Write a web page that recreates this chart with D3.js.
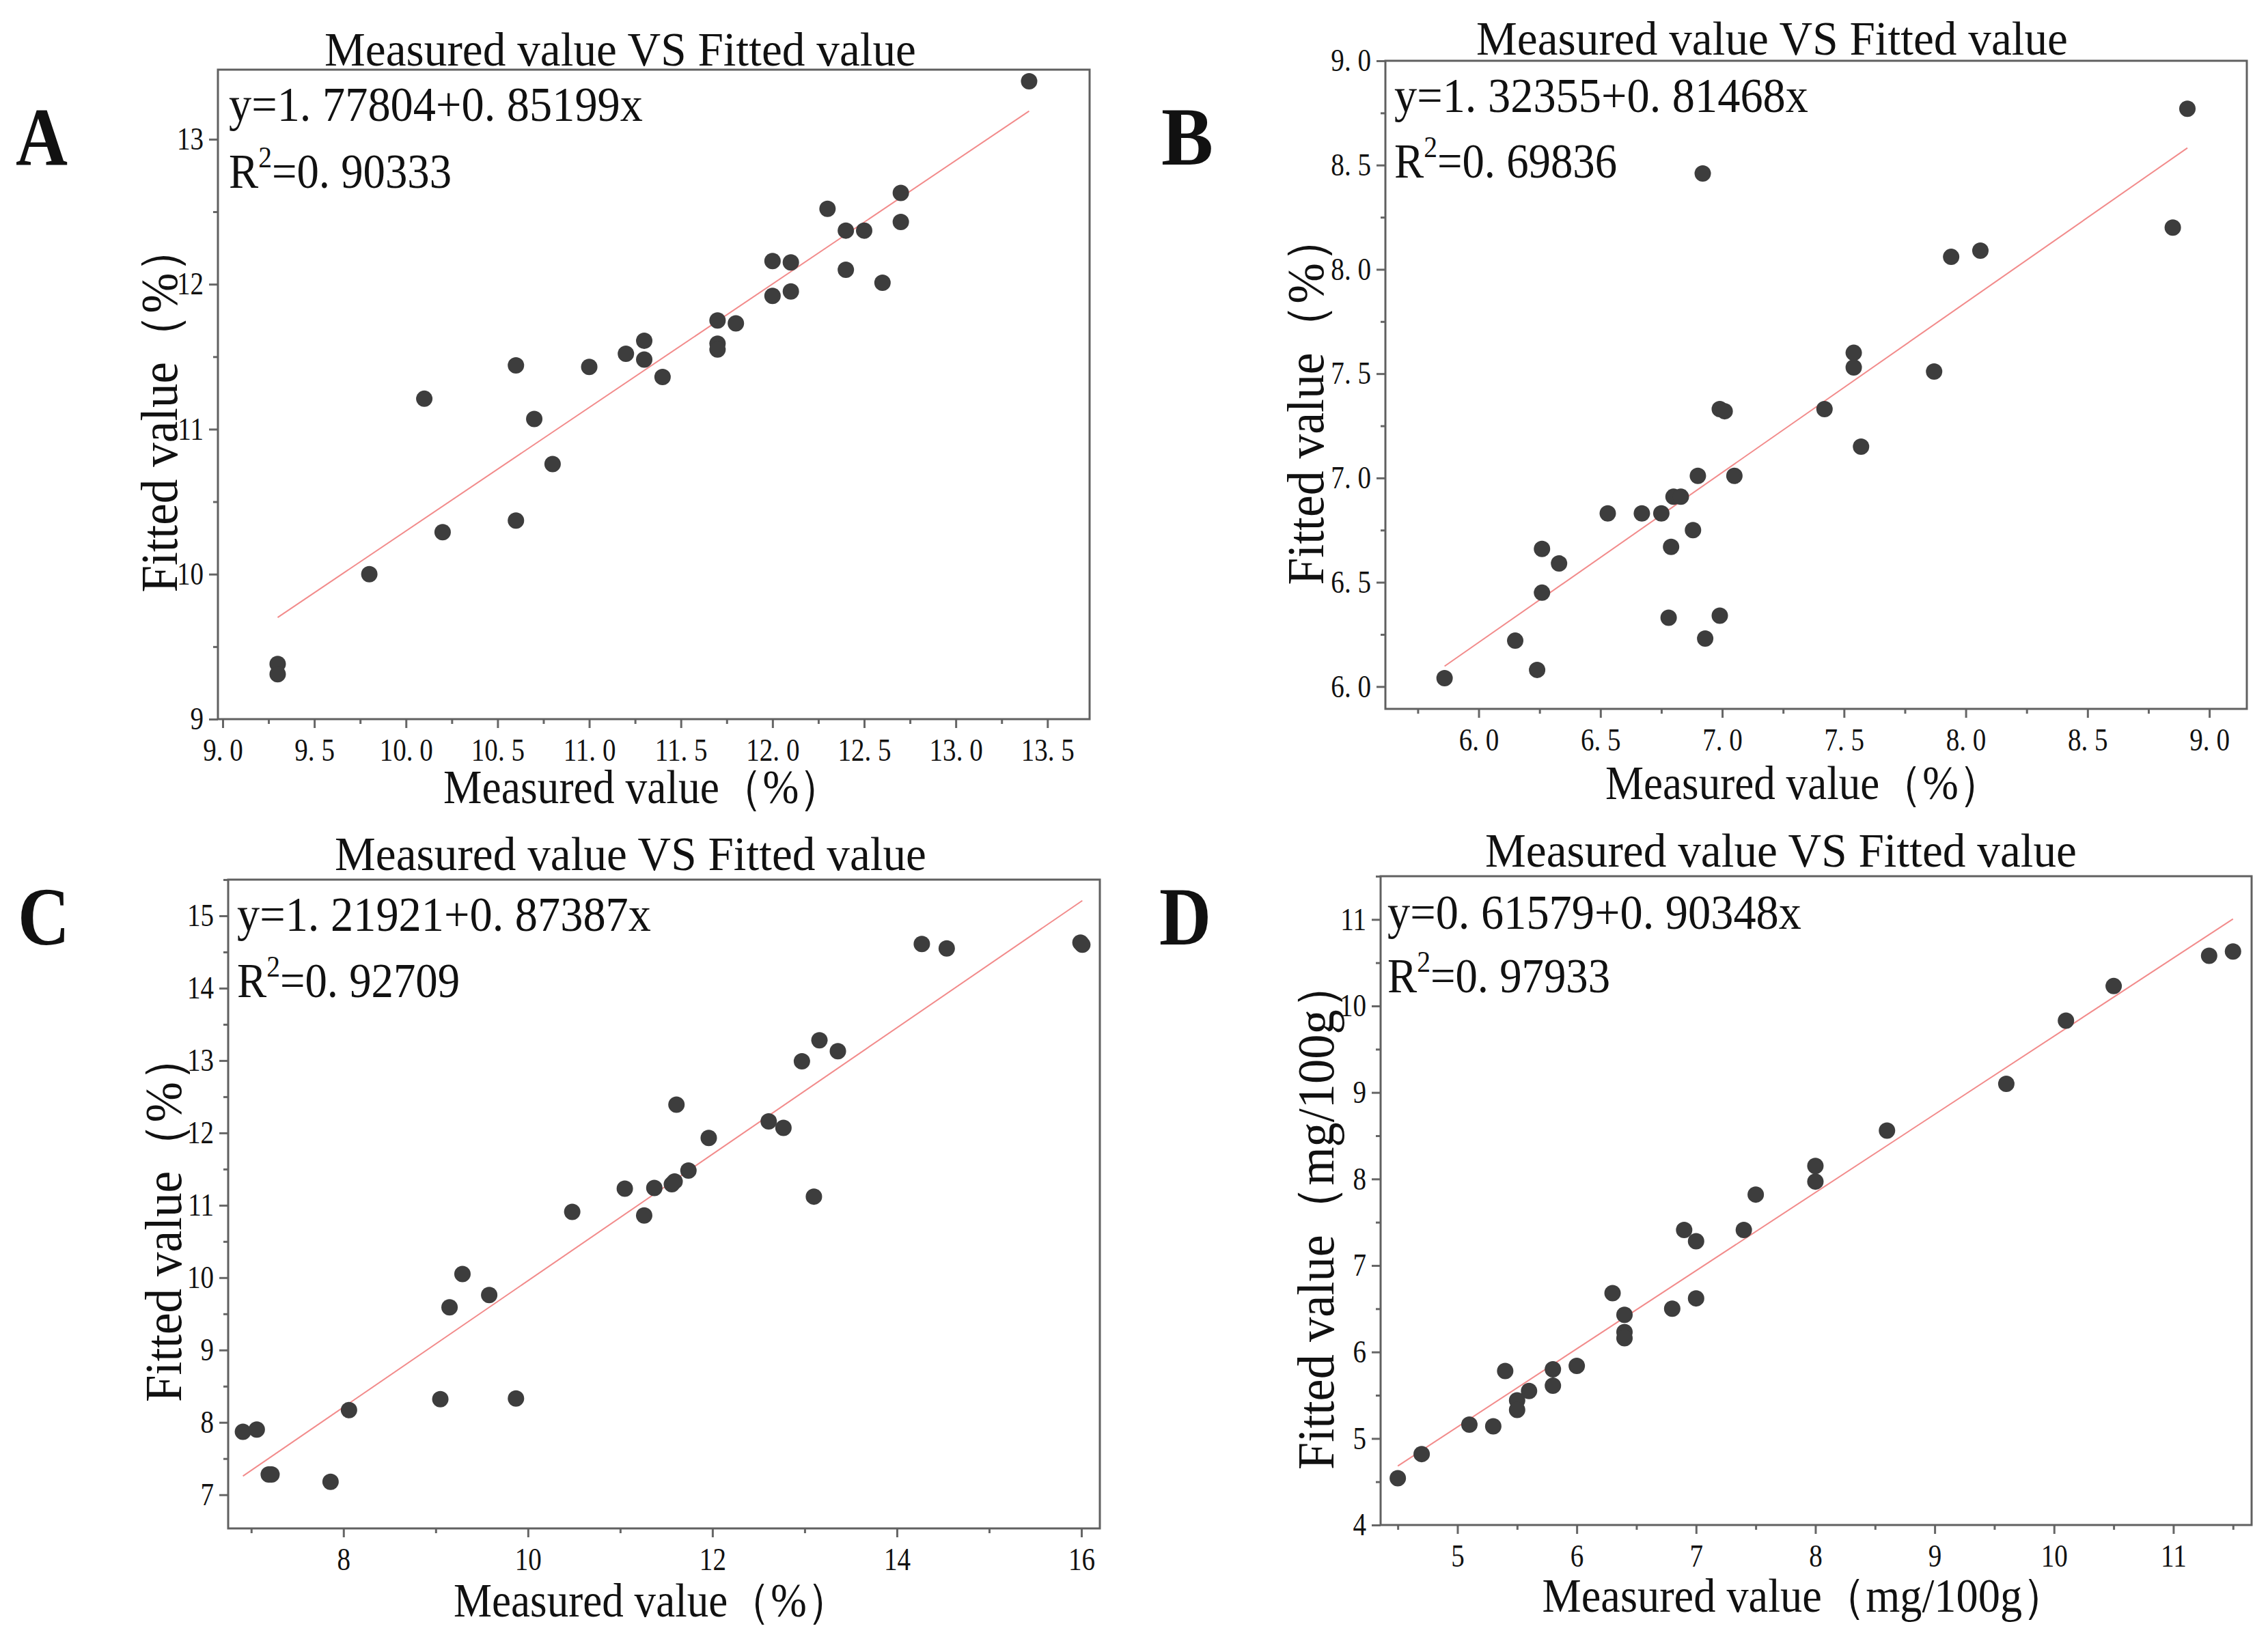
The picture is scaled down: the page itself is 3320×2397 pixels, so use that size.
<!DOCTYPE html>
<html>
<head>
<meta charset="utf-8">
<script src="https://cdn.jsdelivr.net/npm/d3@7"></script>
<style>
  body { margin: 0; background: #fff; }
  text { font-family: "Liberation Serif", "Times New Roman", serif; fill: #111; }
</style>
</head>
<body>
<div id="chart"></div>
<script>
// ---- data ----
var titleText = "Measured value VS Fitted value";

// A
var aMeasured = [13.4, 12.7, 12.7, 12.3, 12.4, 12.5, 12.4, 12.6, 12.0, 12.1, 12.0, 12.1, 11.7, 11.8, 11.7, 11.7,
                 11.2, 11.3, 11.3, 11.4, 11.0, 10.6, 10.1, 10.7, 10.8, 10.6, 10.2, 9.8, 9.3, 9.3];
var aFitted   = [13.40, 12.63, 12.43, 12.52, 12.37, 12.37, 12.10, 12.01, 12.16, 12.15, 11.92, 11.95, 11.75, 11.73, 11.59, 11.55,
                 11.52, 11.61, 11.48, 11.36, 11.43, 11.44, 11.21, 11.07, 10.76, 10.37, 10.29, 10.00, 9.38, 9.31];
var aFit = [1.77804, 0.85199];
var aEq = "y=1. 77804+0. 85199x", aR2 = "=0. 90333";
var aXTicks = [9, 9.5, 10, 10.5, 11, 11.5, 12, 12.5, 13, 13.5];
var aXMinor = [9.25, 9.75, 10.25, 10.75, 11.25, 11.75, 12.25, 12.75, 13.25];
var aYTicks = [9, 10, 11, 12, 13];
var aYMinor = [9.5, 10.5, 11.5, 12.5];

// B
var bMeasured = [8.91, 8.85, 6.92, 7.94, 8.06, 7.54, 7.54, 7.87, 7.42, 6.99, 7.01, 7.57, 6.90, 7.05, 6.80, 6.83,
                 6.53, 6.67, 6.75, 6.88, 6.79, 6.26, 6.33, 6.26, 6.78, 6.99, 6.93, 6.15, 6.24, 5.86];
var bFitted   = [8.77, 8.20, 8.46, 8.06, 8.09, 7.60, 7.53, 7.51, 7.33, 7.33, 7.32, 7.15, 7.01, 7.01, 6.91, 6.91,
                 6.83, 6.83, 6.83, 6.75, 6.67, 6.66, 6.59, 6.45, 6.33, 6.34, 6.23, 6.22, 6.08, 6.04];
var bFit = [1.32355, 0.81468];
var bEq = "y=1. 32355+0. 81468x", bR2 = "=0. 69836";
var bXTicks = [6, 6.5, 7, 7.5, 8, 8.5, 9];
var bXMinor = [5.75, 6.25, 6.75, 7.25, 7.75, 8.25, 8.75];
var bYTicks = [6, 6.5, 7, 7.5, 8, 8.5, 9];
var bYMinor = [6.25, 6.75, 7.25, 7.75, 8.25, 8.75];

// C
var cMeasured = [14.27, 14.54, 15.99, 16.01, 13.16, 13.36, 12.97, 11.61, 12.61, 12.77, 11.96, 11.74, 11.56, 11.59, 11.37,
                 11.05, 11.26, 10.48, 13.10, 9.29, 9.58, 9.15, 9.05, 9.87, 8.06, 6.91, 7.06, 7.19, 7.22, 7.86];
var cFitted   = [14.61, 14.55, 14.63, 14.60, 13.28, 13.13, 12.99, 12.39, 12.16, 12.07, 11.93, 11.48, 11.29, 11.33, 11.24,
                 11.23, 10.86, 10.91, 11.12, 10.05, 9.76, 9.59, 8.32, 8.33, 8.17, 7.87, 7.90, 7.28, 7.28, 7.18];
var cFit = [1.21921, 0.87387];
var cEq = "y=1. 21921+0. 87387x", cR2 = "=0. 92709";
var cXTicks = [8, 10, 12, 14, 16];
var cXMinor = [7, 9, 11, 13, 15];
var cYTicks = [7, 8, 9, 10, 11, 12, 13, 14, 15];
var cYMinor = [7.5, 8.5, 9.5, 10.5, 11.5, 12.5, 13.5, 14.5, 15.5];

// D
var dMeasured = [11.50, 11.30, 10.50, 10.10, 9.60, 8.60, 8.00, 8.00, 7.50, 7.40, 6.90, 7.00, 7.00, 6.80, 6.30,
                 6.40, 6.40, 6.40, 6.00, 5.80, 5.80, 5.40, 5.60, 5.50, 5.50, 5.10, 5.30, 4.70, 4.50];
var dFitted   = [10.63, 10.58, 10.23, 9.83, 9.10, 8.56, 8.15, 7.97, 7.82, 7.41, 7.41, 7.28, 6.62, 6.50, 6.68,
                 6.43, 6.23, 6.16, 5.84, 5.80, 5.61, 5.78, 5.55, 5.44, 5.33, 5.16, 5.14, 4.82, 4.54];
var dFit = [0.61579, 0.90348];
var dEq = "y=0. 61579+0. 90348x", dR2 = "=0. 97933";
var dXTicks = [5, 6, 7, 8, 9, 10, 11];
var dXMinor = [4.5, 5.5, 6.5, 7.5, 8.5, 9.5, 10.5, 11.5];
var dYTicks = [4, 5, 6, 7, 8, 9, 10, 11];
var dYMinor = [4.5, 5.5, 6.5, 7.5, 8.5, 9.5, 10.5, 11.5];

var fmtDec = function(d) { return d.toFixed(1).replace(".", ". "); };
var fmtInt = d3.format("d");

// ---- layout of each panel (frame: left, right, top, bottom) ----
var panels = [
  {letter: "A", lx: 23, ly: 241, mx: aMeasured, fy: aFitted, fit: aFit, eq: aEq, r2: aR2,
   xt: aXTicks, xm: aXMinor, yt: aYTicks, ym: aYMinor, xf: fmtDec, yf: fmtInt,
   xd: [8.974, 13.73], yd: [9, 13.48], box: [319, 1595, 102, 1053],
   title: [908, 96], eqPos: [335, 177, 275], yLab: [259, 598, 539], xLab: [941, 1176, 584],
   xLabel: "Measured value\uff08%\uff09", yLabel: "Fitted value\uff08%\uff09"},
  {letter: "B", lx: 1700, ly: 241, mx: bMeasured, fy: bFitted, fit: bFit, eq: bEq, r2: bR2,
   xt: bXTicks, xm: bXMinor, yt: bYTicks, ym: bYMinor, xf: fmtDec, yf: fmtDec,
   xd: [5.617, 9.154], yd: [5.893, 9.0], box: [2028, 3289, 89, 1038],
   title: [2594, 80], eqPos: [2041, 164, 260], yLab: [1937, 585, 543], xLab: [2640, 1170, 580],
   xLabel: "Measured value\uff08%\uff09", yLabel: "Fitted value\uff08%\uff09"},
  {letter: "C", lx: 26, ly: 1383, mx: cMeasured, fy: cFitted, fit: cFit, eq: cEq, r2: cR2,
   xt: cXTicks, xm: cXMinor, yt: cYTicks, ym: cYMinor, xf: fmtInt, yf: fmtInt,
   xd: [6.75, 16.2], yd: [6.535, 15.5], box: [334, 1610, 1288, 2238],
   title: [923, 1274], eqPos: [347, 1363, 1460], yLab: [265, 1783, 540], xLab: [954, 2367, 580],
   xLabel: "Measured value\uff08%\uff09", yLabel: "Fitted value\uff08%\uff09"},
  {letter: "D", lx: 1697, ly: 1383, mx: dMeasured, fy: dFitted, fit: dFit, eq: dEq, r2: dR2,
   xt: dXTicks, xm: dXMinor, yt: dYTicks, ym: dYMinor, xf: fmtInt, yf: fmtInt,
   xd: [4.356, 11.656], yd: [4, 11.5], box: [2021, 3296, 1283, 2233],
   title: [2607, 1269], eqPos: [2031, 1360, 1453], yLab: [1952, 1779, 746], xLab: [2641, 2360, 767],
   xLabel: "Measured value\uff08mg/100g\uff09", yLabel: "Fitted value\uff08mg/100g\uff09"}
];

var svg = d3.select("#chart")
  .append("svg")
    .attr("width", 3320)
    .attr("height", 2397);

svg.append("rect").attr("width", 3320).attr("height", 2397).attr("fill", "#fff");

function tidy(sel) {
  sel.select(".domain").remove();
  sel.selectAll(".tick line").attr("stroke", "#666").attr("stroke-width", 3);
}

// tick labels in the figure are narrow: squeeze them to 85% of their natural width
function squeeze(sel) {
  sel.selectAll(".tick text")
    .attr("font-size", "46px")
    .attr("font-family", "Liberation Serif")
    .attr("fill", "#222")
    .each(function() {
      var len = this.getComputedTextLength();
      d3.select(this).attr("textLength", len * 0.85).attr("lengthAdjust", "spacingAndGlyphs");
    });
}

panels.forEach(function(p) {
  var x = d3.scaleLinear().domain(p.xd).range([p.box[0], p.box[1]]);
  var y = d3.scaleLinear().domain(p.yd).range([p.box[3], p.box[2]]);
  var g = svg.append("g");

  // minor ticks
  g.append("g")
    .attr("transform", "translate(0," + p.box[3] + ")")
    .call(d3.axisBottom(x).tickValues(p.xm).tickSize(7).tickFormat(""))
    .call(tidy);
  g.append("g")
    .attr("transform", "translate(" + p.box[0] + ",0)")
    .call(d3.axisLeft(y).tickValues(p.ym).tickSize(7).tickFormat(""))
    .call(tidy);

  // major ticks + labels
  g.append("g")
    .attr("transform", "translate(0," + p.box[3] + ")")
    .call(d3.axisBottom(x).tickValues(p.xt).tickSize(13).tickPadding(15).tickFormat(p.xf))
    .call(tidy)
    .call(squeeze);

  g.append("g")
    .attr("transform", "translate(" + p.box[0] + ",0)")
    .call(d3.axisLeft(y).tickValues(p.yt).tickSize(13).tickPadding(8).tickFormat(p.yf))
    .call(tidy)
    .call(squeeze);

  // frame
  g.append("rect")
    .attr("x", p.box[0])
    .attr("y", p.box[2])
    .attr("width", p.box[1] - p.box[0])
    .attr("height", p.box[3] - p.box[2])
    .attr("fill", "none")
    .attr("stroke", "#606060")
    .attr("stroke-width", 3);

  // fitted line over the measured range
  var x0 = d3.min(p.mx), x1 = d3.max(p.mx);
  g.append("line")
    .attr("x1", x(x0)).attr("y1", y(p.fit[0] + p.fit[1] * x0))
    .attr("x2", x(x1)).attr("y2", y(p.fit[0] + p.fit[1] * x1))
    .attr("stroke", "#f28b8b")
    .attr("stroke-width", 2);

  // points
  g.append("g")
    .selectAll("circle")
    .data(p.mx.map(function(v, i) { return [v, p.fy[i]]; }))
    .enter()
    .append("circle")
      .attr("cx", function(d) { return x(d[0]); })
      .attr("cy", function(d) { return y(d[1]); })
      .attr("r", 12)
      .style("fill", "#3d3d3d");

  // title
  g.append("text")
    .attr("x", p.title[0]).attr("y", p.title[1])
    .attr("text-anchor", "middle")
    .attr("font-size", "70px")
    .attr("textLength", 866)
    .attr("lengthAdjust", "spacingAndGlyphs")
    .text(titleText);

  // equation and R2
  g.append("text")
    .attr("x", p.eqPos[0]).attr("y", p.eqPos[1])
    .attr("font-size", "72px")
    .attr("textLength", 606)
    .attr("lengthAdjust", "spacingAndGlyphs")
    .text(p.eq);
  var r = g.append("text")
    .attr("x", p.eqPos[0]).attr("y", p.eqPos[2])
    .attr("font-size", "72px")
    .attr("textLength", 326)
    .attr("lengthAdjust", "spacingAndGlyphs");
  r.append("tspan").text("R");
  r.append("tspan").attr("font-size", "44px").attr("dy", -30).text("2");
  r.append("tspan").attr("dy", 30).text(p.r2);

  // axis titles
  g.append("text")
    .attr("x", p.xLab[0]).attr("y", p.xLab[1])
    .attr("text-anchor", "middle")
    .attr("font-size", "70px")
    .attr("textLength", p.xLab[2])
    .attr("lengthAdjust", "spacingAndGlyphs")
    .text(p.xLabel);
  g.append("text")
    .attr("transform", "translate(" + p.yLab[0] + "," + p.yLab[1] + ") rotate(-90)")
    .attr("text-anchor", "middle")
    .attr("font-size", "76px")
    .attr("textLength", p.yLab[2])
    .attr("lengthAdjust", "spacingAndGlyphs")
    .text(p.yLabel);

  // panel letter
  g.append("text")
    .attr("x", p.lx).attr("y", p.ly)
    .attr("font-size", "120px")
    .attr("font-weight", "bold")
    .attr("textLength", 76)
    .attr("lengthAdjust", "spacingAndGlyphs")
    .text(p.letter);
});
</script>
</body>
</html>
